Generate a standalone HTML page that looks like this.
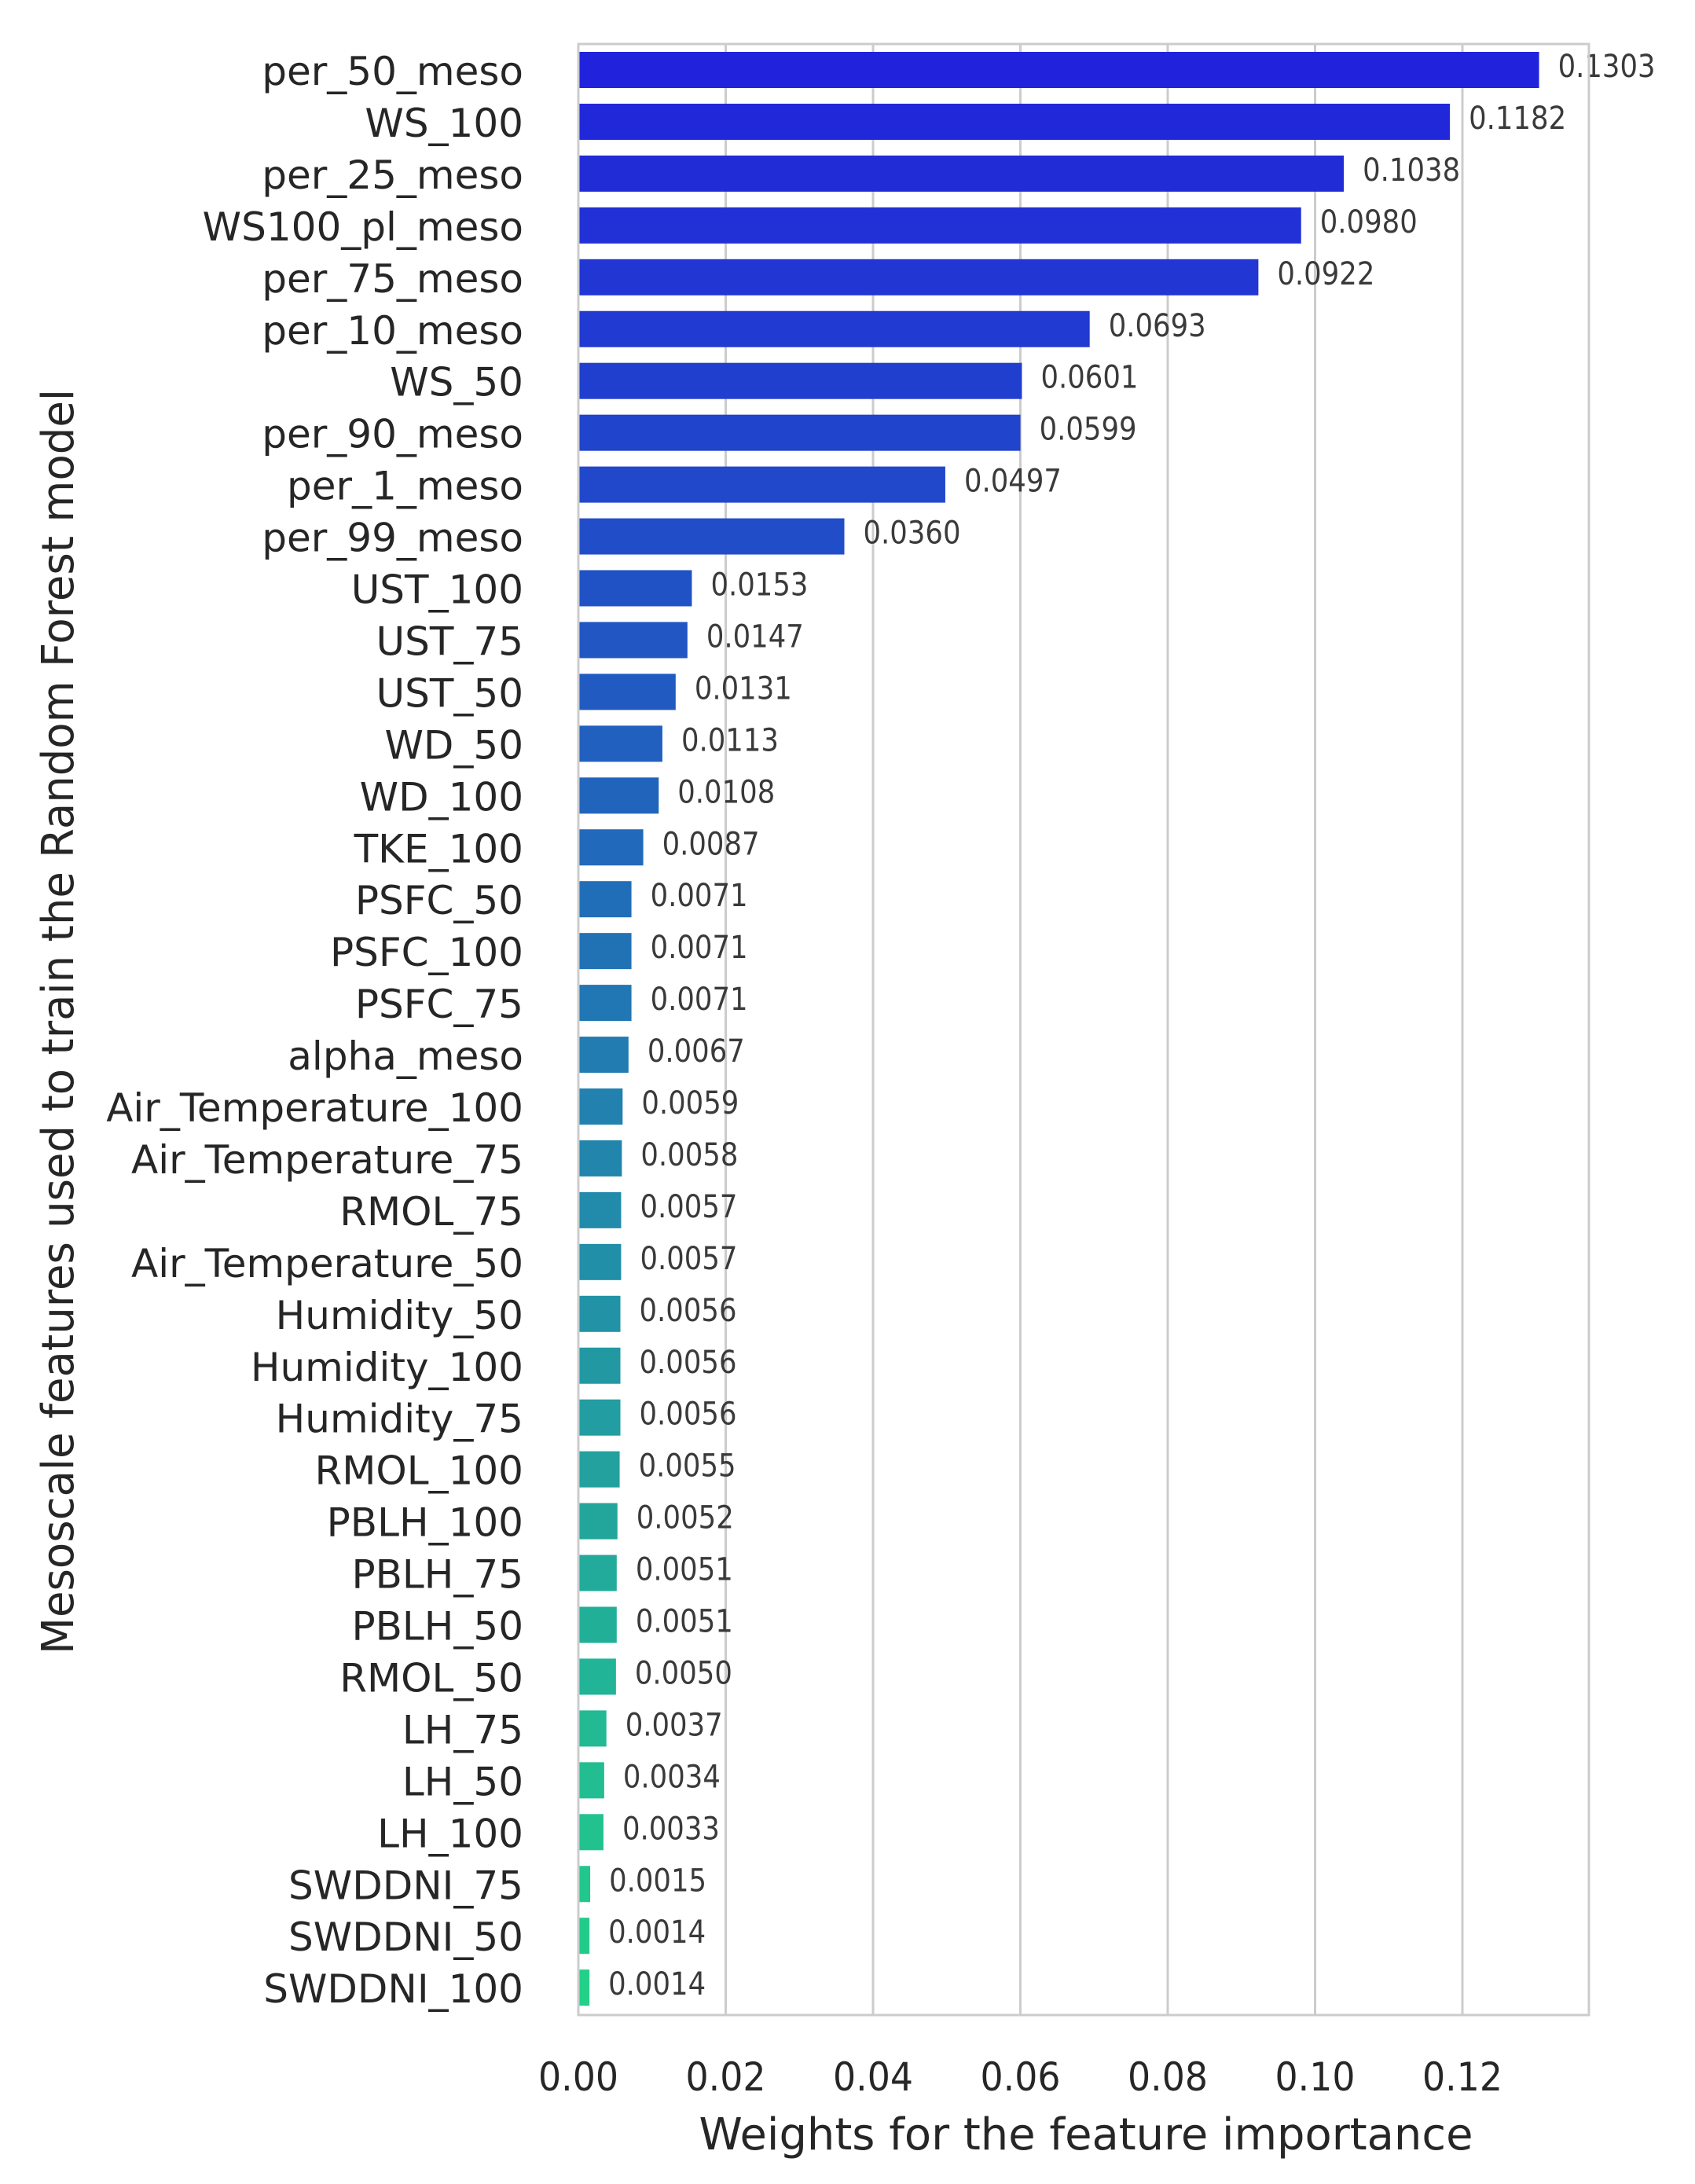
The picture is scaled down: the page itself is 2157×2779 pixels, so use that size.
<!DOCTYPE html>
<html><head><meta charset="utf-8"><style>
html,body{margin:0;padding:0;background:#fff;}
svg{display:block;}
</style></head><body>
<svg id="s" width="2157" height="2779" xmlns="http://www.w3.org/2000/svg" font-family="DejaVu Sans, Liberation Sans, sans-serif">
<rect width="2157" height="2779" fill="#fff"/>
<g id="grid" stroke="#cccccc" stroke-width="3">
<line x1="923.5" y1="56" x2="923.5" y2="2564"/>
<line x1="1111" y1="56" x2="1111" y2="2564"/>
<line x1="1298.5" y1="56" x2="1298.5" y2="2564"/>
<line x1="1486" y1="56" x2="1486" y2="2564"/>
<line x1="1673.5" y1="56" x2="1673.5" y2="2564"/>
<line x1="1861" y1="56" x2="1861" y2="2564"/>
</g>
<g id="bars"></g>
<g id="ann" fill="#3a3a3a" font-size="40"></g>
<g id="lab" fill="#262626" font-size="50" text-anchor="end"></g>
<rect x="736" y="56" width="1286" height="2508" fill="none" stroke="#cccccc" stroke-width="3"/>
<g fill="#262626" font-size="50" text-anchor="middle">
<text x="736" y="2660" textLength="102" lengthAdjust="spacingAndGlyphs">0.00</text>
<text x="923.5" y="2660" textLength="102" lengthAdjust="spacingAndGlyphs">0.02</text>
<text x="1111" y="2660" textLength="102" lengthAdjust="spacingAndGlyphs">0.04</text>
<text x="1298.5" y="2660" textLength="102" lengthAdjust="spacingAndGlyphs">0.06</text>
<text x="1486" y="2660" textLength="102" lengthAdjust="spacingAndGlyphs">0.08</text>
<text x="1673.5" y="2660" textLength="102" lengthAdjust="spacingAndGlyphs">0.10</text>
<text x="1861" y="2660" textLength="102" lengthAdjust="spacingAndGlyphs">0.12</text>
<text x="1382" y="2735" font-size="56" textLength="985" lengthAdjust="spacingAndGlyphs">Weights for the feature importance</text>
<text transform="translate(93,1300) rotate(-90)" x="0" y="0" font-size="56" textLength="1610" lengthAdjust="spacingAndGlyphs">Mesoscale features used to train the Random Forest model</text>
</g>
</svg>
<script>
var d=[["per_50_meso",0.1303],["WS_100",0.1182],["per_25_meso",0.1038],["WS100_pl_meso",0.0980],["per_75_meso",0.0922],["per_10_meso",0.0693],["WS_50",0.0601],["per_90_meso",0.0599],["per_1_meso",0.0497],["per_99_meso",0.0360],["UST_100",0.0153],["UST_75",0.0147],["UST_50",0.0131],["WD_50",0.0113],["WD_100",0.0108],["TKE_100",0.0087],["PSFC_50",0.0071],["PSFC_100",0.0071],["PSFC_75",0.0071],["alpha_meso",0.0067],["Air_Temperature_100",0.0059],["Air_Temperature_75",0.0058],["RMOL_75",0.0057],["Air_Temperature_50",0.0057],["Humidity_50",0.0056],["Humidity_100",0.0056],["Humidity_75",0.0056],["RMOL_100",0.0055],["PBLH_100",0.0052],["PBLH_75",0.0051],["PBLH_50",0.0051],["RMOL_50",0.0050],["LH_75",0.0037],["LH_50",0.0034],["LH_100",0.0033],["SWDDNI_75",0.0015],["SWDDNI_50",0.0014],["SWDDNI_100",0.0014]];
var NS="http://www.w3.org/2000/svg",b=document.getElementById("bars"),a=document.getElementById("ann"),l=document.getElementById("lab");
var x0=737,k=9375,c0=[33,35,220],c1=[34,208,136];
d.forEach(function(r,i){
 var cy=89+65.95*i,t=i/37,w=r[1]*k;
 var col="rgb("+[0,1,2].map(function(j){return Math.round(c0[j]+(c1[j]-c0[j])*t)}).join(",")+")";
 var e=document.createElementNS(NS,"rect");
 e.setAttribute("x",x0);e.setAttribute("y",cy-23);e.setAttribute("width",w);e.setAttribute("height",46);e.setAttribute("fill",col);b.appendChild(e);
 var s=document.createElementNS(NS,"text");
 s.setAttribute("x",x0+w+24);s.setAttribute("y",cy+9);s.setAttribute("textLength","124");s.setAttribute("lengthAdjust","spacingAndGlyphs");
 s.textContent=r[1].toFixed(4);a.appendChild(s);
 var q=document.createElementNS(NS,"text");
 q.setAttribute("x",666);q.setAttribute("y",cy+19);q.textContent=r[0];l.appendChild(q);
});
</script>
</body></html>
